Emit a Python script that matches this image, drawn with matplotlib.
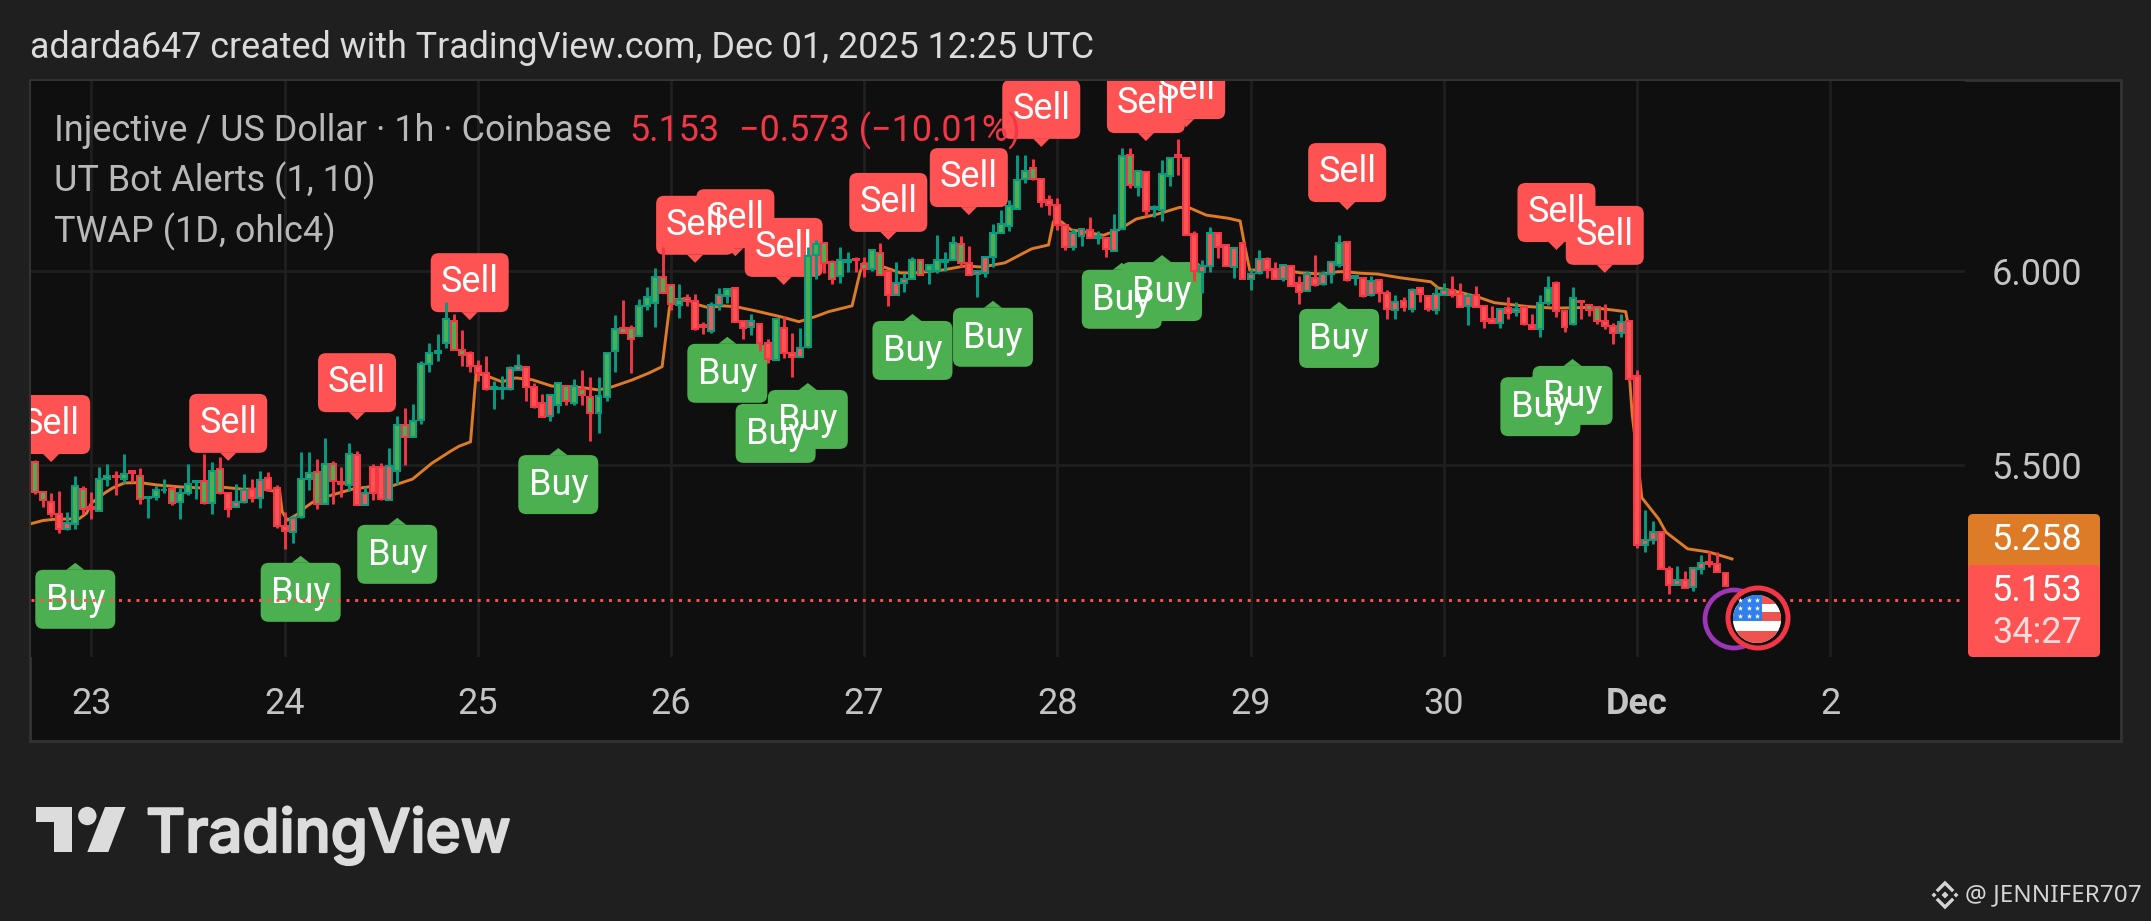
import numpy as np
import matplotlib
matplotlib.use('Agg')
import matplotlib.pyplot as plt
import matplotlib.patheffects as pe
from matplotlib.patches import Rectangle, FancyBboxPatch, Polygon, Circle
from matplotlib.transforms import Affine2D

plt.rcParams['font.family'] = ['Roboto', 'DejaVu Sans']

# hourly candles, first one is Nov 22 17:00 on the chart's clock
opens = [5.508, 5.430, 5.406, 5.373, 5.336, 5.348, 5.439, 5.391, 5.382, 5.463,
         5.473, 5.465, 5.484, 5.472, 5.416, 5.418, 5.435, 5.439, 5.404, 5.427,
         5.456, 5.458, 5.403, 5.489, 5.429, 5.391, 5.404, 5.439, 5.415, 5.466,
         5.442, 5.344, 5.327, 5.366, 5.463, 5.481, 5.400, 5.503, 5.456, 5.448,
         5.525, 5.396, 5.496, 5.496, 5.410, 5.486, 5.604, 5.573, 5.616, 5.761,
         5.788, 5.814, 5.873, 5.797, 5.788, 5.757, 5.737, 5.696, 5.697, 5.696,
         5.745, 5.752, 5.701, 5.659, 5.627, 5.654, 5.703, 5.660, 5.697, 5.677,
         5.634, 5.677, 5.795, 5.854, 5.854, 5.832, 5.911, 5.919, 5.986, 5.964,
         5.914, 5.930, 5.924, 5.861, 5.847, 5.912, 5.937, 5.957, 5.871, 5.857,
         5.864, 5.814, 5.771, 5.854, 5.790, 5.778, 5.804, 6.042, 6.073, 6.024,
         5.988, 6.024, 6.033, 6.019, 6.007, 6.047, 6.000, 5.938, 5.971, 5.980,
         6.028, 6.002, 6.000, 6.024, 6.030, 6.071, 6.021, 5.992, 5.995, 6.036,
         6.098, 6.116, 6.162, 6.238, 6.267, 6.238, 6.184, 6.171, 6.119, 6.064,
         6.092, 6.107, 6.086, 6.085, 6.052, 6.110, 6.300, 6.217, 6.257, 6.160,
         6.159, 6.246, 6.300, 6.293, 6.097, 5.997, 6.014, 6.098, 6.067, 6.012,
         6.073, 5.981, 5.995, 6.031, 6.007, 5.980, 6.014, 5.969, 5.950, 5.983,
         5.968, 5.993, 6.016, 6.076, 5.984, 5.983, 5.938, 5.977, 5.943, 5.900,
         5.924, 5.903, 5.957, 5.936, 5.900, 5.940, 5.952, 5.941, 5.910, 5.940,
         5.910, 5.876, 5.866, 5.905, 5.895, 5.909, 5.862, 5.852, 5.919, 5.969,
         5.898, 5.864, 5.924, 5.912, 5.907, 5.872, 5.860, 5.842, 5.871, 5.731,
         5.294, 5.306, 5.328, 5.231, 5.190, 5.204, 5.186, 5.231, 5.249, 5.245, 5.221]
closes = [5.430, 5.410, 5.373, 5.336, 5.351, 5.446, 5.387, 5.387, 5.463, 5.473,
          5.470, 5.478, 5.480, 5.413, 5.419, 5.435, 5.437, 5.403, 5.429, 5.451,
          5.459, 5.403, 5.485, 5.427, 5.387, 5.406, 5.435, 5.416, 5.461, 5.437,
          5.344, 5.330, 5.363, 5.463, 5.479, 5.401, 5.503, 5.458, 5.451, 5.530,
          5.396, 5.429, 5.427, 5.412, 5.499, 5.603, 5.573, 5.615, 5.761, 5.790,
          5.795, 5.876, 5.797, 5.785, 5.757, 5.737, 5.696, 5.701, 5.699, 5.751,
          5.757, 5.702, 5.651, 5.625, 5.680, 5.711, 5.666, 5.703, 5.680, 5.634,
          5.679, 5.790, 5.852, 5.842, 5.826, 5.911, 5.933, 5.986, 5.943, 5.916,
          5.926, 5.924, 5.852, 5.856, 5.912, 5.938, 5.955, 5.868, 5.854, 5.871,
          5.816, 5.773, 5.878, 5.789, 5.778, 5.801, 6.040, 6.071, 6.021, 5.981,
          6.028, 6.028, 6.030, 6.005, 6.054, 5.990, 5.938, 5.971, 5.981, 6.030,
          5.990, 6.016, 6.030, 6.028, 6.073, 6.021, 5.990, 6.002, 6.038, 6.098,
          6.121, 6.169, 6.236, 6.260, 6.238, 6.179, 6.171, 6.119, 6.064, 6.098,
          6.109, 6.085, 6.092, 6.057, 6.107, 6.298, 6.222, 6.258, 6.155, 6.165,
          6.251, 6.293, 6.294, 6.093, 6.000, 6.014, 6.098, 6.062, 6.014, 6.061,
          5.981, 5.993, 6.031, 6.004, 5.981, 6.016, 5.961, 5.947, 5.993, 5.964,
          5.993, 6.023, 6.072, 5.977, 5.988, 5.936, 5.974, 5.945, 5.902, 5.921,
          5.909, 5.953, 5.941, 5.902, 5.941, 5.953, 5.938, 5.909, 5.936, 5.909,
          5.872, 5.866, 5.903, 5.893, 5.902, 5.864, 5.850, 5.917, 5.958, 5.897,
          5.857, 5.931, 5.921, 5.900, 5.871, 5.859, 5.842, 5.869, 5.721, 5.294,
          5.306, 5.328, 5.233, 5.190, 5.204, 5.182, 5.235, 5.247, 5.245, 5.223, 5.188]
highs = [5.513, 5.432, 5.427, 5.432, 5.380, 5.472, 5.446, 5.430, 5.494, 5.504,
         5.485, 5.530, 5.487, 5.492, 5.419, 5.447, 5.463, 5.446, 5.441, 5.502,
         5.459, 5.528, 5.508, 5.520, 5.430, 5.451, 5.478, 5.463, 5.484, 5.482,
         5.449, 5.379, 5.370, 5.535, 5.534, 5.515, 5.570, 5.510, 5.496, 5.556,
         5.536, 5.444, 5.503, 5.505, 5.544, 5.627, 5.647, 5.658, 5.768, 5.814,
         5.838, 5.921, 5.890, 5.849, 5.794, 5.771, 5.782, 5.716, 5.730, 5.757,
         5.787, 5.752, 5.713, 5.683, 5.682, 5.715, 5.704, 5.722, 5.746, 5.727,
         5.727, 5.790, 5.887, 5.926, 5.861, 5.928, 5.959, 6.009, 6.062, 5.966,
         5.967, 5.942, 5.942, 5.869, 5.921, 5.957, 5.955, 5.958, 5.875, 5.890,
         5.866, 5.825, 5.880, 5.885, 5.840, 5.854, 6.062, 6.081, 6.073, 6.028,
         6.062, 6.050, 6.038, 6.038, 6.057, 6.073, 6.000, 6.024, 5.995, 6.036,
         6.030, 6.018, 6.093, 6.050, 6.091, 6.090, 6.066, 6.002, 6.038, 6.122,
         6.159, 6.184, 6.300, 6.300, 6.289, 6.239, 6.196, 6.188, 6.119, 6.110,
         6.110, 6.140, 6.104, 6.088, 6.148, 6.319, 6.319, 6.262, 6.257, 6.171,
         6.288, 6.293, 6.341, 6.293, 6.104, 6.028, 6.114, 6.098, 6.067, 6.062,
         6.074, 6.007, 6.054, 6.036, 6.023, 6.016, 6.014, 5.987, 6.000, 6.042,
         6.000, 6.024, 6.094, 6.078, 5.988, 5.984, 5.988, 5.981, 5.953, 5.938,
         5.933, 5.957, 5.958, 5.938, 5.960, 5.969, 5.988, 5.969, 5.945, 5.962,
         5.910, 5.910, 5.905, 5.933, 5.922, 5.910, 5.890, 5.938, 5.989, 5.974,
         5.900, 5.960, 5.926, 5.912, 5.909, 5.915, 5.866, 5.891, 5.871, 5.745,
         5.385, 5.356, 5.328, 5.241, 5.241, 5.227, 5.237, 5.269, 5.279, 5.275, 5.223]
lows = [5.425, 5.391, 5.365, 5.325, 5.332, 5.336, 5.373, 5.361, 5.382, 5.447,
        5.423, 5.454, 5.456, 5.401, 5.363, 5.411, 5.427, 5.398, 5.361, 5.423,
        5.413, 5.399, 5.373, 5.425, 5.367, 5.391, 5.403, 5.404, 5.389, 5.432,
        5.337, 5.284, 5.298, 5.364, 5.436, 5.386, 5.400, 5.400, 5.419, 5.434,
        5.396, 5.396, 5.410, 5.410, 5.410, 5.451, 5.501, 5.572, 5.606, 5.739,
        5.769, 5.802, 5.797, 5.756, 5.740, 5.718, 5.694, 5.646, 5.671, 5.694,
        5.745, 5.666, 5.647, 5.625, 5.613, 5.634, 5.656, 5.656, 5.656, 5.561,
        5.582, 5.665, 5.740, 5.842, 5.737, 5.832, 5.899, 5.857, 5.943, 5.899,
        5.880, 5.911, 5.849, 5.838, 5.842, 5.899, 5.919, 5.868, 5.825, 5.837,
        5.795, 5.763, 5.770, 5.777, 5.728, 5.778, 5.801, 5.980, 5.995, 5.968,
        5.971, 5.997, 5.997, 5.985, 6.000, 5.990, 5.911, 5.938, 5.947, 5.980,
        5.990, 5.966, 5.995, 6.000, 6.028, 6.011, 5.990, 5.935, 5.985, 6.012,
        6.098, 6.104, 6.162, 6.227, 6.236, 6.167, 6.145, 6.107, 6.055, 6.054,
        6.066, 6.085, 6.071, 6.038, 6.052, 6.110, 6.214, 6.195, 6.143, 6.140,
        6.131, 6.221, 6.248, 6.093, 5.976, 5.945, 5.999, 6.035, 6.014, 5.983,
        5.980, 5.952, 5.993, 5.983, 5.981, 5.976, 5.961, 5.916, 5.950, 5.963,
        5.964, 5.969, 6.012, 5.976, 5.964, 5.933, 5.936, 5.921, 5.878, 5.878,
        5.898, 5.895, 5.921, 5.897, 5.890, 5.940, 5.933, 5.909, 5.862, 5.907,
        5.854, 5.866, 5.854, 5.876, 5.886, 5.862, 5.850, 5.831, 5.914, 5.883,
        5.843, 5.862, 5.878, 5.885, 5.864, 5.850, 5.812, 5.831, 5.716, 5.285,
        5.277, 5.296, 5.233, 5.168, 5.190, 5.182, 5.174, 5.219, 5.237, 5.223, 5.188]

# UT Bot signals: candle number and the price where the tail of the label points
sell_idx = [2, 24, 40, 54, 82, 87, 93, 106, 116, 125, 138, 143, 163, 189, 195]
sell_tip = [5.508, 5.511, 5.616, 5.874, 6.022, 6.039, 5.965, 6.081, 6.145, 6.321,
            6.336, 6.372, 6.158, 6.055, 5.996]
buy_idx = [5, 33, 45, 65, 86, 92, 96, 109, 119, 135, 140, 162, 187, 191]
buy_tip = [5.248, 5.266, 5.364, 5.544, 5.831, 5.676, 5.712, 5.890, 5.924, 6.022,
           6.042, 5.921, 5.745, 5.774]

# TWAP, read at its bends
twap_idx = [-0.66, 0.96, 2.2, 5.5, 6.4, 7, 8.65, 9.64, 11.1, 13, 15.1, 17.9, 20.8, 23.3,
            25.8, 28.2, 30.4, 30.7, 31.35, 32.8, 33.7, 34.9, 36.9, 39.4, 41.5, 44, 46.9,
            49.3, 51.7, 52.7, 54.1, 54.8, 56.4, 58, 59.7, 61.8, 64.2, 65.9, 68, 70, 71.7,
            74.2, 76.3, 77.9, 78.8, 79.1, 80.8, 82.5, 83.7, 85.3, 87, 89.5, 92.8, 94.9,
            96.9, 98.6, 101.5, 102.5, 102.9, 105.6, 107.5, 109.4, 112.6, 115.6, 117.6,
            120.5, 123.8, 125.9, 126.5, 127.5, 128.7, 129.8, 132.7, 134.6, 136.8, 139.5,
            142.2, 143.5, 145.5, 148.2, 149.7, 150.3, 150.9, 153.2, 155.3, 157.3, 159.8,
            161.9, 162.7, 164.7, 166.8, 169.7, 173.4, 174.3, 176.8, 179.2, 181.3, 185.5,
            188.8, 193.3, 197.6, 197.8, 198.1, 198.4, 199.3, 199.6, 201.7, 202.6, 205.3,
            207.9, 210.8]
twap_val = [5.348, 5.357, 5.360, 5.362, 5.376, 5.402, 5.428, 5.441, 5.454, 5.455, 5.449,
            5.444, 5.441, 5.443, 5.438, 5.438, 5.431, 5.380, 5.358, 5.376, 5.393, 5.410,
            5.423, 5.438, 5.444, 5.444, 5.464, 5.505, 5.537, 5.549, 5.560, 5.738, 5.728,
            5.715, 5.725, 5.720, 5.704, 5.702, 5.700, 5.694, 5.702, 5.720, 5.738, 5.754,
            5.905, 5.926, 5.929, 5.913, 5.906, 5.911, 5.909, 5.898, 5.882, 5.870, 5.883,
            5.896, 5.911, 5.999, 6.021, 6.010, 5.996, 5.996, 6.003, 6.014, 6.011, 6.022,
            6.058, 6.068, 6.128, 6.128, 6.107, 6.104, 6.093, 6.107, 6.135, 6.148, 6.165,
            6.163, 6.145, 6.137, 6.130, 6.063, 6.003, 6.005, 6.002, 5.996, 5.993, 5.999,
            5.999, 5.995, 5.993, 5.983, 5.973, 5.957, 5.947, 5.934, 5.919, 5.909, 5.905,
            5.907, 5.896, 5.874, 5.721, 5.632, 5.474, 5.416, 5.361, 5.327, 5.284, 5.276,
            5.258]

last_price = 5.153
twap_last = 5.258
day_pos = [7, 31, 55, 79, 103, 127, 151, 175, 199, 223]
day_labels = ['23', '24', '25', '26', '27', '28', '29', '30', 'Dec', '2']
price_ticks = [5.5, 6.0]
price_labels = ['5.500', '6.000']

BG = '#1f1f1f'
PANE = '#0f0f0f'
GRID = '#1f1f1f'
GREY = '#b8b8b8'
TEAL = '#089981'
RED = '#f23645'
LRED = '#ff5252'
LGREEN = '#4caf50'
ORANGE = '#de7b26'

W, H = 2151, 921
fig = plt.figure(figsize=(W / 100, H / 100), dpi=100, facecolor=BG)

# pixel overlay for frame, tags, logo
back = fig.add_axes([0, 0, 1, 1], zorder=0)
back.set_xlim(0, W)
back.set_ylim(H, 0)
back.axis('off')
back.add_patch(Rectangle((30, 80), 2091, 661, fc=PANE, ec='#333333', lw=2))

ax = fig.add_axes([31 / W, 1 - 657 / H, 1934 / W, 576 / H], zorder=1)
ax.set_facecolor(PANE)
ax.set_xlim(-0.50, 239.75)
ax.set_ylim(5.005, 6.491)
for s in ax.spines.values():
    s.set_visible(False)

ax.set_xticks(day_pos)
ax.set_xticklabels(day_labels)
ax.yaxis.tick_right()
ax.set_yticks(price_ticks)
ax.set_yticklabels(price_labels)
ax.tick_params(axis='both', length=0, labelcolor='#c4c4c4', labelsize=26)
ax.tick_params(axis='x', pad=21)
ax.tick_params(axis='y', pad=19)
ax.get_xticklabels()[8].set_fontweight('bold')
ax.grid(True, color=GRID, lw=2)
ax.set_axisbelow(True)

idx = np.arange(len(opens))
o, h, l, c = map(np.array, (opens, highs, lows, closes))

# body fill follows the UT Bot state, border follows the candle direction
fills = []
state = LGREEN
for i in idx:
    if i in sell_idx:
        state = LRED
    if i in buy_idx:
        state = LGREEN
    fills.append(state)
borders = [TEAL if cl >= op else RED for op, cl in zip(o, c)]

ax.axhline(last_price, color=LRED, lw=2.1, ls=(0, (1.0, 2.0)), zorder=3.5)
ax.plot(twap_idx, twap_val, color=ORANGE, lw=2.1, zorder=4)
ax.vlines(idx, l, h, colors=borders, lw=2.1, zorder=5)
ax.bar(idx, np.abs(c - o), bottom=np.minimum(o, c), width=0.74, color=fills,
       edgecolor=borders, linewidth=1.45, zorder=5.1)


def add_label(i, price, text, color, up):
    # label is sized in pixels around the point of its tail
    px, py = ax.transData.transform((i, price))
    tf = Affine2D().translate(px, py)
    if up:
        box = FancyBboxPatch((-39, 8), 78, 59, boxstyle='round,pad=0,rounding_size=8')
        tail = [(-8, 8), (8, 8), (0, 0)]
        text_y = 38
    else:
        box = FancyBboxPatch((-40, -66), 80, 59, boxstyle='round,pad=0,rounding_size=8')
        tail = [(-9, -7), (9, -7), (0, 0)]
        text_y = -37
    box.set(fc=color, ec='none', zorder=2, transform=tf)
    ax.add_patch(box)
    ax.add_patch(Polygon(tail, closed=True, fc=color, ec='none', zorder=2, transform=tf))
    ax.text(0, text_y, text, color='white', fontsize=26, ha='center', va='center',
            zorder=3, transform=tf, clip_on=True)


for i, p in zip(sell_idx, sell_tip):
    add_label(i, p, 'Sell', LRED, True)
for i, p in zip(buy_idx, buy_tip):
    add_label(i, p, 'Buy', LGREEN, False)

# overlay for everything that sits on top
top = fig.add_axes([0, 0, 1, 1], zorder=2)
top.set_xlim(0, W)
top.set_ylim(H, 0)
top.axis('off')
top.patch.set_alpha(0)

top.text(30, 48, 'adarda647 created with TradingView.com, Dec 01, 2025 12:25 UTC',
         color='#dbdbdb', fontsize=25.8, va='center')
top.text(54, 131, 'Injective / US Dollar · 1h · Coinbase', color=GREY, fontsize=25.9, va='center')
top.text(629, 131, '5.153', color=RED, fontsize=25.9, va='center')
top.text(739, 131, '−0.573 (−10.01%)', color=RED, fontsize=25.9, va='center')
top.text(54, 181, 'UT Bot Alerts (1, 10)', color=GREY, fontsize=25.9, va='center')
top.text(54, 232, 'TWAP (1D, ohlc4)', color=GREY, fontsize=25.9, va='center')

# price tags on the scale
top.add_patch(FancyBboxPatch((1968, 514), 132, 60, boxstyle='round,pad=0,rounding_size=5',
                             fc=ORANGE, ec='none'))
top.add_patch(FancyBboxPatch((1968, 565), 132, 92, boxstyle='round,pad=0,rounding_size=5',
                             fc=LRED, ec='none'))
top.text(2037, 540, f'{twap_last:.3f}', color='white', fontsize=26, ha='center', va='center')
top.text(2037, 591, f'{last_price:.3f}', color='white', fontsize=26, ha='center', va='center')
top.text(2037, 633, '34:27', color='#ffdcdc', fontsize=26, ha='center', va='center')

# event icons under the last candle
top.add_patch(Circle((1734, 619), 29, fc=PANE, ec='#9c36b5', lw=3.4))
top.add_patch(Circle((1758, 618), 30, fc=PANE, ec=RED, lw=3.6))
disc = Circle((1757, 619), 24, fc='white', ec='none')
top.add_patch(disc)
for y0, hgt, col in [(594, 10, '#ef5350'), (604, 8, 'white'), (612, 9, '#ef5350'),
                     (621, 10, 'white'), (631, 13, '#ef5350')]:
    top.add_patch(Rectangle((1732, y0), 50, hgt, fc=col, ec='none', clip_path=disc))
top.add_patch(Rectangle((1732, 594), 30, 27, fc='#2f80ed', ec='none', clip_path=disc))
star_x = [1740, 1749, 1757]
star_y = [600, 608, 616]
for sy in star_y:
    top.scatter(star_x, [sy] * 3, s=16, c='white', marker='*', linewidths=0)

# TradingView logo
LOGO = '#dcdcdc'
top.add_patch(Polygon([(36, 807), (72, 807), (72, 852), (54, 852), (54, 822), (36, 822)],
                      closed=True, fc=LOGO, ec='none'))
top.add_patch(Circle((87.3, 816), 9.2, fc=LOGO, ec='none'))
top.add_patch(Polygon([(105, 807), (125.5, 807), (108.3, 852), (87.3, 852)],
                      closed=True, fc=LOGO, ec='none'))
top.text(146, 852, 'TradingView', color=LOGO, fontsize=43.2, fontweight=500, family='Inter',
         va='baseline', path_effects=[pe.withStroke(linewidth=1.6, foreground=LOGO)])

# watermark
WM = '#d4d4d4'
top.text(1965, 895, '@ JENNIFER707', color=WM, fontsize=17.5, family='Noto Sans', va='center')
for dx, dy, r in [(0, 0, 3.5), (-11, 0, 2.5), (11, 0, 2.5)]:
    top.add_patch(Polygon([(1945 + dx - r, 895 + dy), (1945 + dx, 895 + dy - r),
                           (1945 + dx + r, 895 + dy), (1945 + dx, 895 + dy + r)],
                          closed=True, fc=WM, ec='none'))
top.plot([1938, 1945, 1952], [890, 883, 890], color=WM, lw=2.4, solid_joinstyle='miter')
top.plot([1938, 1945, 1952], [900, 907, 900], color=WM, lw=2.4, solid_joinstyle='miter')

fig.savefig('out.png', dpi=100, facecolor=BG)
